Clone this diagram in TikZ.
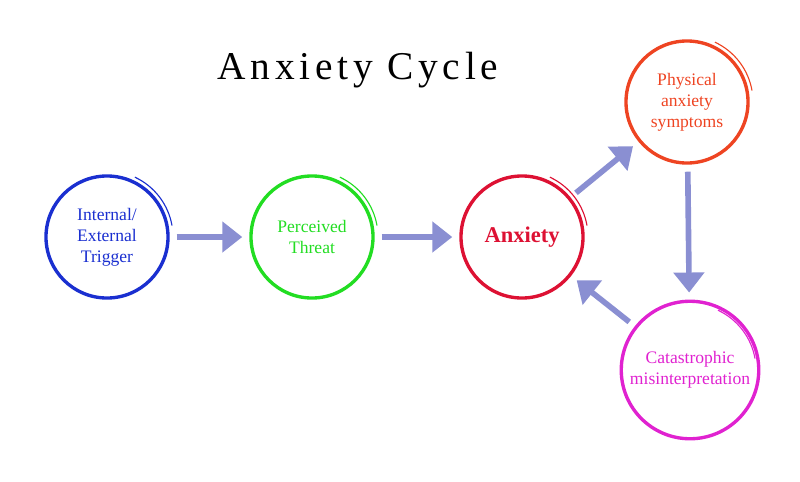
\documentclass[tikz,border=0pt]{standalone}
\usepackage{fontspec}
\setmainfont{Liberation Serif}
\usetikzlibrary{arrows.meta}
\definecolor{ringblue}{HTML}{1A2FD0}
\definecolor{ringgreen}{HTML}{22DD22}
\definecolor{ringred}{HTML}{DD1133}
\definecolor{ringorange}{HTML}{EE4422}
\definecolor{ringpink}{HTML}{E022D0}
\definecolor{flow}{HTML}{8A8FD2}
\begin{document}
\begin{tikzpicture}[x=0.025cm, y=-0.025cm,
  ring/.style={circle, draw, text=black, line width=2.4pt, minimum size=3.05cm, align=center, font=\fontsize{12.5}{15}\selectfont},
  flow arrow/.style={-{Triangle[length=0.5cm, width=0.75cm]}, line width=4pt, flow, shorten <=5pt, shorten >=5pt}]
\useasboundingbox (0,0) rectangle (800,481);
\node at (358,70) {\fontsize{28}{32}\selectfont\addfontfeature{LetterSpace=12}Anxiety Cycle};
\node[ring, ringblue]   (trigger) at (107,237) {Internal/\\External\\Trigger};
\node[ring, ringgreen]  (threat)  at (312,237) {Perceived\\Threat};
\node[ring, ringred]    (anx)     at (522,237) {\fontsize{16}{19}\selectfont\bfseries Anxiety};
\node[ring, ringorange] (phys)    at (687,102) {Physical\\anxiety\\symptoms};
\node[ring, ringpink]   (cata)    at (690,370) {Catastrophic\\misinterpretation};
% overshooting tails of the rings
\foreach \n/\c in {trigger/ringblue, threat/ringgreen, anx/ringred, phys/ringorange, cata/ringpink}
  \draw[\c, line width=0.8pt] ([shift={(-10:66)}]\n.center) arc[start angle=-10, end angle=-65, radius=66];
\draw[flow arrow] (trigger) -- (threat);
\draw[flow arrow] (threat) -- (anx);
\draw[flow arrow] (anx) -- (phys);
\draw[flow arrow] (phys) -- (cata);
\draw[flow arrow] (cata) -- (anx);
\end{tikzpicture}
\end{document}
